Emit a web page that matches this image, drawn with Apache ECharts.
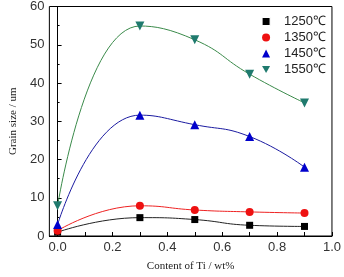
<!DOCTYPE html>
<html>
<head>
<meta charset="utf-8">
<script src="https://cdn.jsdelivr.net/npm/echarts@6/dist/echarts.min.js"></script>
<style>html,body{margin:0;padding:0;background:#fff}#chart{width:344px;height:277px}</style>
</head>
<body>
<div id="chart"></div>
<script>
var tiContent = [0.0, 0.3, 0.5, 0.7, 0.9];
var grain1250 = [1.0, 4.8, 4.3, 2.8, 2.5];
var grain1350 = [1.4, 7.9, 6.8, 6.3, 6.0];
var grain1450 = [3.0, 31.6, 29.1, 26.0, 18.0];
var grain1550 = [7.9, 54.9, 51.3, 42.3, 34.8];
var seriesNames = ['1250℃', '1350℃', '1450℃', '1550℃'];
var xLabels = [0, 0.2, 0.4, 0.6, 0.8, 1.0];
var xTicks = [0, 0.1, 0.2, 0.3, 0.4, 0.5, 0.6, 0.7, 0.8, 0.9, 1.0];

function pairs(vals) {
    return tiContent.map(function (x, i) { return [x, vals[i]]; });
}

var myChart = echarts.init(document.getElementById('chart'));
var downTri = 'path://M0,0 L10,0 L5,9 Z';
var option = {
    animation: false,
    grid: { left: 36, right: 7, top: 5, bottom: 33, show: true, borderColor: '#000', borderWidth: 1 },
    legend: {
        orient: 'vertical',
        right: 13,
        top: 10,
        itemWidth: 8,
        itemHeight: 8,
        itemGap: 3,
        textStyle: { fontFamily: 'Liberation Sans', fontSize: 13, color: '#222', padding: [0, 0, 0, 9] },
        data: [
            { name: seriesNames[0], icon: 'rect', itemStyle: { borderWidth: 1, borderColor: '#fff' } },
            { name: seriesNames[1], icon: 'circle' },
            { name: seriesNames[2], icon: 'triangle' },
            { name: seriesNames[3], icon: downTri }
        ]
    },
    xAxis: {
        type: 'value',
        min: -0.03,
        max: 1.0,
        name: 'Content of Ti / wt%',
        nameLocation: 'middle',
        nameGap: 25,
        nameTextStyle: { fontFamily: 'Liberation Serif', fontSize: 11, color: '#222' },
        axisLine: { lineStyle: { color: '#000' } },
        axisTick: { inside: true, length: 4, customValues: xTicks, lineStyle: { color: '#000' } },
        axisLabel: {
            customValues: xLabels,
            fontFamily: 'Liberation Sans', fontSize: 13, color: '#333', margin: 5,
            formatter: function (v) { return v.toFixed(1); }
        },
        splitLine: { show: false }
    },
    yAxis: {
        type: 'value',
        min: 0,
        max: 60,
        interval: 10,
        name: 'Grain size / um',
        nameLocation: 'middle',
        nameGap: 23,
        nameTextStyle: { fontFamily: 'Liberation Serif', fontSize: 11, color: '#222' },
        axisLine: { show: true, lineStyle: { color: '#000' } },
        axisTick: { inside: true, length: 4, lineStyle: { color: '#000' } },
        minorTick: { show: true, splitNumber: 2, length: 2, lineStyle: { color: '#000' } },
        axisLabel: { fontFamily: 'Liberation Sans', fontSize: 13, color: '#333', margin: 5 },
        splitLine: { show: false }
    },
    series: [
        {
            name: seriesNames[0], type: 'line', smooth: 0.5, data: pairs(grain1250),
            symbol: 'rect', symbolSize: 7,
            itemStyle: { color: '#000' }, lineStyle: { color: '#222', width: 1 }
        },
        {
            name: seriesNames[1], type: 'line', smooth: 0.5, data: pairs(grain1350),
            symbol: 'circle', symbolSize: 8,
            itemStyle: { color: '#ee1111' }, lineStyle: { color: '#ee2222', width: 1 }
        },
        {
            name: seriesNames[2], type: 'line', smooth: 0.5, data: pairs(grain1450),
            symbol: 'triangle', symbolSize: 9,
            itemStyle: { color: '#0000cc' }, lineStyle: { color: '#1a1aa0', width: 1 }
        },
        {
            name: seriesNames[3], type: 'line', smooth: 0.5, data: pairs(grain1550),
            symbol: 'triangle', symbolRotate: 180, symbolSize: 9,
            itemStyle: { color: '#1f7a6e' }, lineStyle: { color: '#3a8a4a', width: 1 }
        }
    ]
};
myChart.setOption(option);
</script>
</body>
</html>
